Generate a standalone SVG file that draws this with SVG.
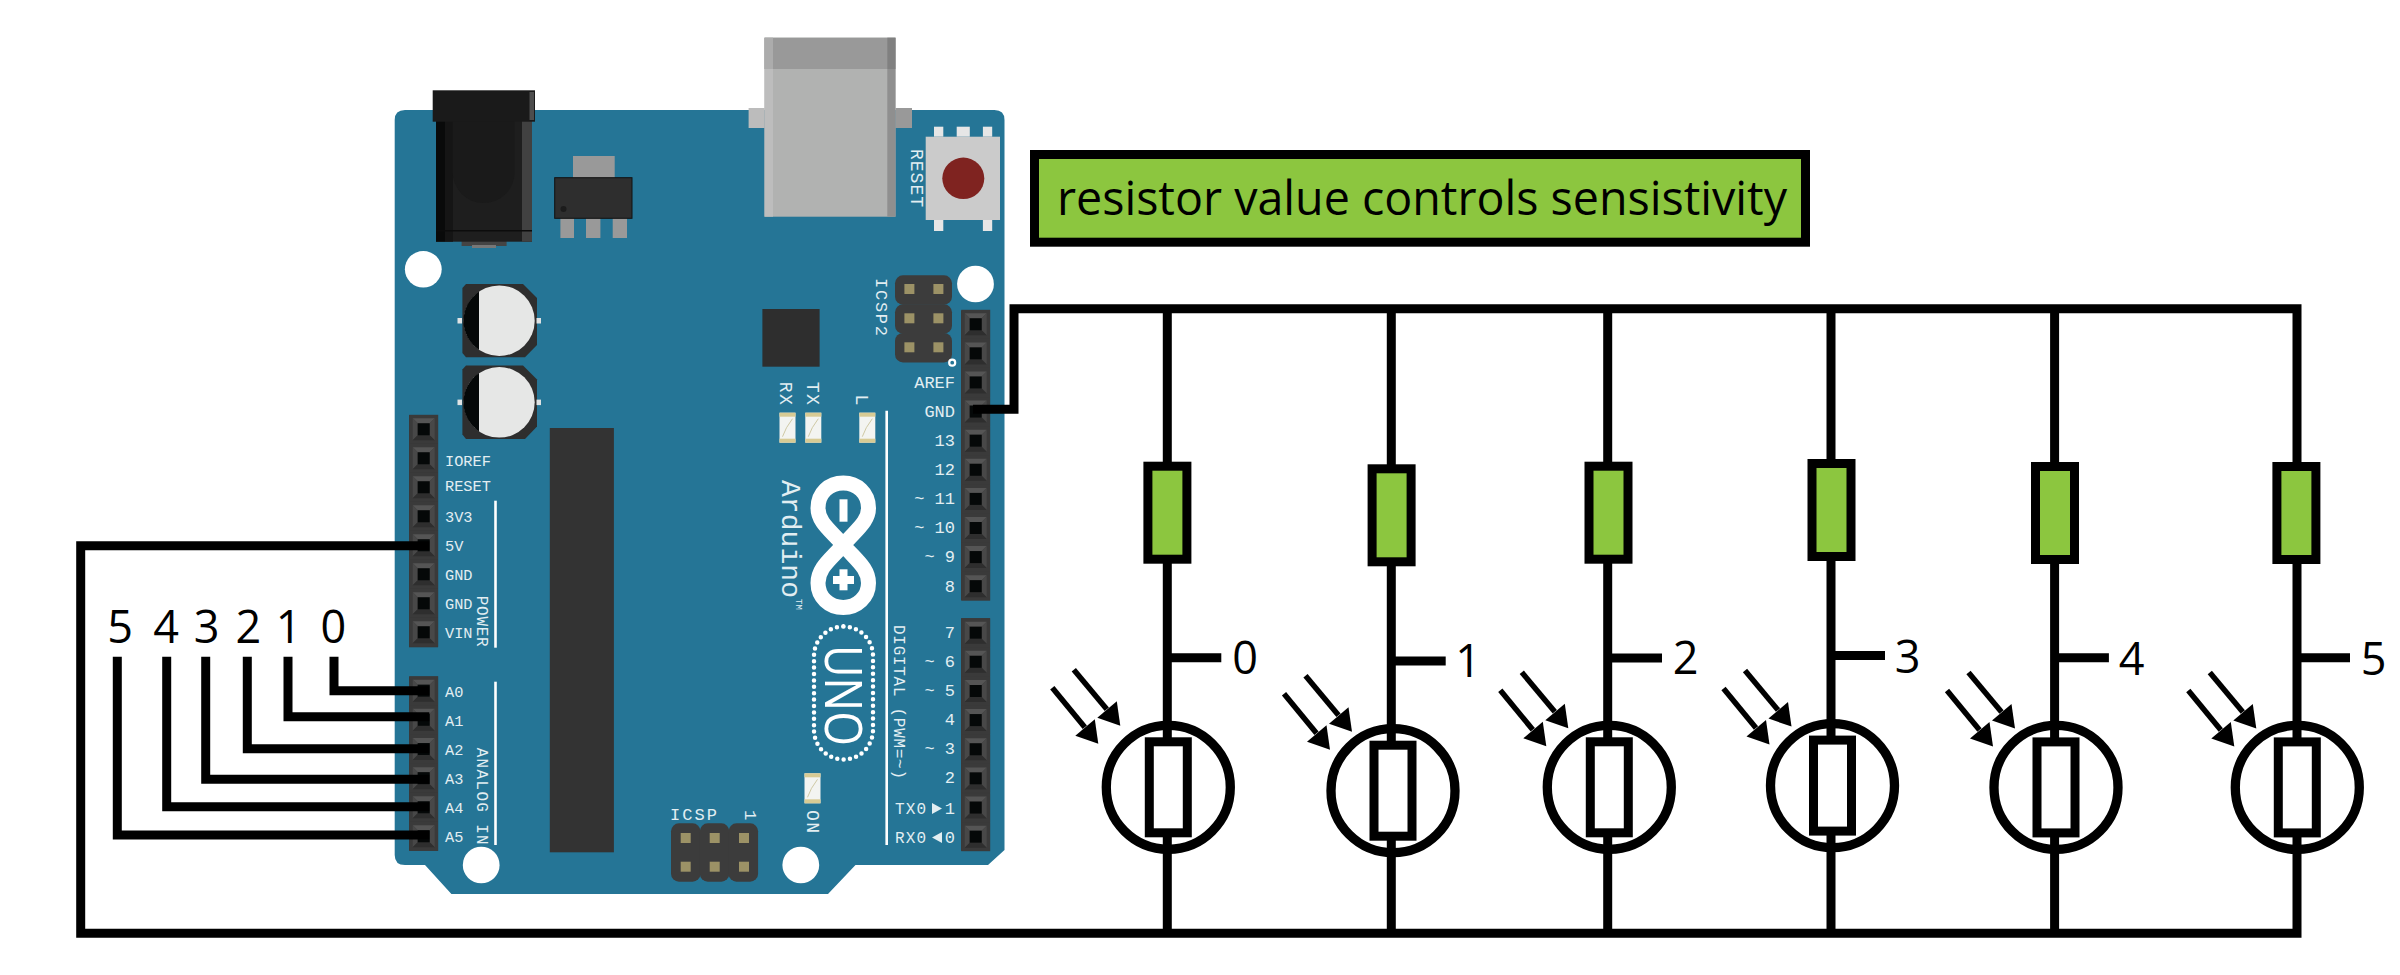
<svg xmlns="http://www.w3.org/2000/svg" xmlns:xlink="http://www.w3.org/1999/xlink" width="2400" height="975" viewBox="0 0 2400 975">
<style>
.lbl{font-family:"Liberation Mono","DejaVu Sans Mono",monospace;fill:#e2eef2;font-size:16px}
.r{font-size:17px;text-anchor:end}
.wire{fill:none;stroke:#000;stroke-width:9;stroke-linejoin:miter}
.w2{fill:none;stroke:#000;stroke-width:9}
.num{font-family:"Open Sans","Noto Sans",sans-serif;font-size:45px;fill:#000;text-anchor:middle}
.res{fill:#8cc63f;stroke:#000;stroke-width:9}
.ldrc{fill:none;stroke:#000;stroke-width:9.3}
.ldrr{fill:#fff;stroke:#000;stroke-width:9}
.ray{stroke:#000;stroke-width:5.5;fill:none}
.sil{stroke:#fff;stroke-width:2.6;fill:none}
.hdr{fill:#3a3a3a}
.hole{fill:#fff}
.pad{fill:#9c9266}
.blk{fill:#3c3c3c}
.grey{fill:#999}
</style>
<defs>
<g id="pin">
<rect x="-14.5" y="-14.5" width="29" height="29" fill="#3a3a3a"/>
<polygon points="-11,-11 11,-11 6,-6 -6,-6" fill="#555"/>
<polygon points="-11,-11 -6,-6 -6,6 -11,11" fill="#484848"/>
<polygon points="11,-11 6,-6 6,6 11,11" fill="#484848"/>
<polygon points="-11,11 -6,6 6,6 11,11" fill="#2e2e2e"/>
<rect x="-6" y="-6" width="12" height="12" fill="#050808"/>
</g>
<g id="led">
<rect x="0" y="0" width="16" height="30" fill="#f3f4f1"/>
<rect x="0" y="0" width="16" height="4" fill="#d8cb94"/>
<rect x="0" y="26" width="16" height="4" fill="#d8cb94"/>
<path d="M3 24 L7 15 L13 6" fill="none" stroke="#cfc9a4" stroke-width="1"/>
</g>
<rect id="spad" x="-5" y="-5" width="10" height="10" class="pad"/>
<g id="cap">
<polygon points="466,284 523,284 537,298 537,345 525,357.300 466,357.300 462.400,353 462.400,288" fill="#2e2e2e"/>
<rect x="457.500" y="318" width="4.500" height="5.500" fill="#dfe3e4"/>
<rect x="536.500" y="318" width="4.500" height="5.500" fill="#dfe3e4"/>
<ellipse cx="499.200" cy="320.700" rx="35.500" ry="35.300" fill="#e6e7e6"/>
<path d="M479 291.500 A35.500 35.300 0 0 0 479 349.900 Z" fill="#050808"/>
</g>
<g id="rays">
<line class="ray" x1="-87.500" y1="-115" x2="-54.500" y2="-75.500"/>
<polygon points="-41,-59 -64,-67 -44.500,-83.500"/>
<line class="ray" x1="-109" y1="-97" x2="-76.500" y2="-57.500"/>
<polygon points="-63,-41 -86,-49 -66.500,-65.500"/>
</g>
<g id="ldrbody">
<circle class="ldrc" r="62"/>
<rect class="ldrr" x="-19" y="-45.500" width="38" height="91"/>
</g>
</defs>

<g id="board">
<path d="M405 110 H994.500 Q1004.500 110 1004.500 120 V850 L988 865 H855.500 L828 894 H451.400 L425 865 H405 Q394.700 865 394.700 855 V120 Q394.700 110 405 110 Z" fill="#257596"/>
<ellipse class="hole" cx="423.300" cy="269.300" rx="18.400" ry="18.300"/>
<ellipse class="hole" cx="975.500" cy="284" rx="18.400" ry="18.300"/>
<ellipse class="hole" cx="481.200" cy="865" rx="18.400" ry="18.300"/>
<ellipse class="hole" cx="800.800" cy="865" rx="18.400" ry="18.300"/>
</g>

<g id="power-jack">
<rect x="461.600" y="240" width="45" height="6" fill="#444"/>
<rect x="472" y="245" width="24" height="3" fill="#777"/>
<rect x="436" y="121" width="96" height="120.700" fill="#1e1e1e"/>
<rect x="436" y="121" width="9" height="120.700" fill="#090a0a"/>
<rect x="445" y="121" width="8" height="120.700" fill="#151515"/>
<rect x="522" y="121" width="10" height="120.700" fill="#414141"/>
<path d="M452.600 121 H514.700 V172 A31 31 0 0 1 452.600 172 Z" fill="#1a1a1a"/>
<rect x="436" y="230" width="96" height="1.500" fill="#0c0c0c"/>
<rect x="432.700" y="90.300" width="102.300" height="31.400" fill="#1a1a1a"/>
<rect x="529.500" y="92" width="4.500" height="28" fill="#4d4d4d"/>
</g>

<g id="regulator">
<rect class="grey" x="573" y="156" width="41.700" height="22"/>
<rect class="grey" x="560.400" y="218" width="13.600" height="20"/>
<rect class="grey" x="586" y="218" width="14.400" height="20"/>
<rect class="grey" x="612.700" y="218" width="14.300" height="20"/>
<rect x="554.700" y="177.700" width="77.300" height="40.600" fill="#2e2e2e" stroke="#111" stroke-width="1"/>
<circle cx="563.500" cy="209" r="3" fill="#1c1c1c"/>
</g>

<g id="usb">
<rect x="748.600" y="108" width="16" height="20" fill="#bcbcbc"/>
<rect x="895.500" y="108" width="16.500" height="20" fill="#999"/>
<rect x="764.500" y="37.700" width="131" height="179" fill="#b1b2b1"/>
<rect x="764.500" y="37.700" width="131" height="31.300" fill="#999"/>
<rect x="764.500" y="69" width="8.500" height="147.700" fill="#bdbdbd"/>
<rect x="764.500" y="37.700" width="8.500" height="31.300" fill="#acacac"/>
<rect x="887.300" y="37.700" width="8.200" height="31.300" fill="#808080"/>
<rect x="887.300" y="69" width="8.200" height="147.700" fill="#8f8f8f"/>
</g>

<g id="reset-button">
<rect x="934" y="126.700" width="9.300" height="10" fill="#e6e6e6"/>
<rect x="956.700" y="126.700" width="13.100" height="10" fill="#e6e6e6"/>
<rect x="982.900" y="126.700" width="9.300" height="10" fill="#e6e6e6"/>
<rect x="934" y="220" width="9.300" height="11" fill="#e6e6e6"/>
<rect x="982.900" y="220" width="9.300" height="11" fill="#e6e6e6"/>
<rect x="925.700" y="136.700" width="74.300" height="83.300" fill="#cbcbcb"/>
<ellipse cx="963.300" cy="178.300" rx="21" ry="20.700" fill="#7f2320"/>
<text class="lbl" transform="translate(911,149) rotate(90)" textLength="58" lengthAdjust="spacing" style="font-size:18px">RESET</text>
</g>

<g id="capacitors">
<use xlink:href="#cap" href="#cap"/>
<use xlink:href="#cap" href="#cap" y="81.600"/>
</g>

<g id="chips">
<rect x="762.400" y="309" width="57.200" height="57.700" fill="#2e2e2e"/>
<rect x="549.800" y="428" width="64.100" height="424.300" fill="#333"/>
</g>

<g id="icsp2">
<rect class="blk" x="895" y="275.300" width="57" height="29.400" rx="8"/>
<rect class="blk" x="895" y="304.300" width="57" height="29.400" rx="8"/>
<rect class="blk" x="895" y="333" width="57" height="29.400" rx="8"/>
<use href="#spad" x="909.400" y="289"/><use href="#spad" x="938.400" y="289"/>
<use href="#spad" x="909.400" y="318.300"/><use href="#spad" x="938.400" y="318.300"/>
<use href="#spad" x="909.400" y="347.300"/><use href="#spad" x="938.400" y="347.300"/>
<circle cx="952.200" cy="362.700" r="3" fill="#257596" stroke="#fff" stroke-width="2.200"/>
<text class="lbl" transform="translate(875.500,278) rotate(90)" textLength="58" lengthAdjust="spacing" style="font-size:17px">ICSP2</text>
</g>

<g id="icsp">
<rect class="blk" x="671" y="823.300" width="29.500" height="58.400" rx="8"/>
<rect class="blk" x="699.800" y="823.300" width="29.500" height="58.400" rx="8"/>
<rect class="blk" x="728.600" y="823.300" width="29.500" height="58.400" rx="8"/>
<use href="#spad" x="685.700" y="838"/><use href="#spad" x="714.700" y="838"/><use href="#spad" x="744" y="838"/>
<use href="#spad" x="685.700" y="866.700"/><use href="#spad" x="714.700" y="866.700"/><use href="#spad" x="744" y="866.700"/>
<text class="lbl" x="670" y="820" textLength="47" lengthAdjust="spacing" style="font-size:17px">ICSP</text>
<text class="lbl" transform="translate(745,810) rotate(90)" style="font-size:17px">1</text>
</g>

<g id="header-power">
<rect class="hdr" x="409" y="415" width="29" height="232.300"/>
<use href="#pin" x="423.700" y="429.300"/><use href="#pin" x="423.700" y="458.300"/><use href="#pin" x="423.700" y="487.300"/><use href="#pin" x="423.700" y="516.300"/><use href="#pin" x="423.700" y="545.300"/><use href="#pin" x="423.700" y="574.300"/><use href="#pin" x="423.700" y="603.300"/><use href="#pin" x="423.700" y="632.300"/>
<g class="lbl" style="font-size:15.300px">
<text x="445" y="466">IOREF</text>
<text x="445" y="491">RESET</text>
<text x="445" y="522">3V3</text>
<text x="445" y="551">5V</text>
<text x="445" y="580">GND</text>
<text x="445" y="608.500">GND</text>
<text x="445" y="637.500">VIN</text>
</g>
<text class="lbl" transform="translate(476.500,595.700) rotate(90)" textLength="51" lengthAdjust="spacing">POWER</text>
<line class="sil" x1="495.500" y1="500.700" x2="495.500" y2="647.700"/>
</g>

<g id="header-analog">
<rect class="hdr" x="409" y="676.700" width="29" height="174"/>
<use href="#pin" x="423.700" y="690.700"/><use href="#pin" x="423.700" y="719.800"/><use href="#pin" x="423.700" y="749"/><use href="#pin" x="423.700" y="778.200"/><use href="#pin" x="423.700" y="807.300"/><use href="#pin" x="423.700" y="836.300"/>
<g class="lbl" style="font-size:15.300px">
<text x="445" y="696.500">A0</text>
<text x="445" y="725.500">A1</text>
<text x="445" y="754.500">A2</text>
<text x="445" y="783.500">A3</text>
<text x="445" y="812.500">A4</text>
<text x="445" y="841.500">A5</text>
</g>
<text class="lbl" transform="translate(476.500,747.700) rotate(90)" textLength="97" lengthAdjust="spacing">ANALOG IN</text>
<line class="sil" x1="495.500" y1="681.700" x2="495.500" y2="845"/>
</g>

<g id="header-digital-high">
<rect class="hdr" x="961" y="310.700" width="29" height="289.300"/>
<use href="#pin" x="975.700" y="324.300"/><use href="#pin" x="975.700" y="353.400"/><use href="#pin" x="975.700" y="382.500"/><use href="#pin" x="975.700" y="411.600"/><use href="#pin" x="975.700" y="440.700"/><use href="#pin" x="975.700" y="469.800"/><use href="#pin" x="975.700" y="498.900"/><use href="#pin" x="975.700" y="528"/><use href="#pin" x="975.700" y="557.100"/><use href="#pin" x="975.700" y="586.200"/>
<text class="lbl r" x="955" y="388">AREF</text>
<text class="lbl r" x="955" y="417">GND</text>
<text class="lbl r" x="955" y="446">13</text>
<text class="lbl r" x="955" y="475">12</text>
<text class="lbl r" x="955" y="504">~ 11</text>
<text class="lbl r" x="955" y="533">~ 10</text>
<text class="lbl r" x="955" y="562">~ 9</text>
<text class="lbl r" x="955" y="591.500">8</text>
</g>

<g id="header-digital-low">
<rect class="hdr" x="961" y="618.300" width="29" height="232.400"/>
<use href="#pin" x="975.700" y="632.700"/><use href="#pin" x="975.700" y="661.800"/><use href="#pin" x="975.700" y="691"/><use href="#pin" x="975.700" y="720.100"/><use href="#pin" x="975.700" y="749.300"/><use href="#pin" x="975.700" y="778.400"/><use href="#pin" x="975.700" y="807.600"/><use href="#pin" x="975.700" y="836.700"/>
<text class="lbl r" x="955" y="638">7</text>
<text class="lbl r" x="955" y="667">~ 6</text>
<text class="lbl r" x="955" y="696">~ 5</text>
<text class="lbl r" x="955" y="725">4</text>
<text class="lbl r" x="955" y="754">~ 3</text>
<text class="lbl r" x="955" y="783">2</text>
<text class="lbl r" x="955" y="814">1</text>
<text class="lbl r" x="955" y="842.500">0</text>
<text class="lbl" x="895" y="814" textLength="31" lengthAdjust="spacing">TX0</text>
<text class="lbl" x="895" y="842.500" textLength="31" lengthAdjust="spacing">RX0</text>
<polygon points="932,803 932,814 942,808.500" fill="#e2eef2"/>
<polygon points="942,832 942,843 932,837.500" fill="#e2eef2"/>
<text class="lbl" transform="translate(894,625) rotate(90)" textLength="154" lengthAdjust="spacing">DIGITAL (PWM=~)</text>
<line class="sil" x1="886.700" y1="410.700" x2="886.700" y2="845"/>
</g>

<g id="leds">
<use href="#led" x="779.500" y="412.700"/>
<use href="#led" x="805.300" y="412.700"/>
<use href="#led" x="859.300" y="412.700"/>
<use href="#led" x="804.500" y="773.300"/>
<text class="lbl" transform="translate(779.500,381.700) rotate(90)" textLength="23" lengthAdjust="spacing" style="font-size:18px">RX</text>
<text class="lbl" transform="translate(807,381.700) rotate(90)" textLength="23" lengthAdjust="spacing" style="font-size:18px">TX</text>
<text class="lbl" transform="translate(856,394.500) rotate(90)" style="font-size:18px">L</text>
<text class="lbl" transform="translate(807,810) rotate(90)" textLength="23" lengthAdjust="spacing" style="font-size:18px">ON</text>
</g>

<g id="logo">
<path d="M843.300 545 C830 530 818 522 818 508 C818 493 829 483 843.300 483 C857 483 868.500 493 868.500 508 C868.500 522 856 530 843.300 545 C830 560 818 568 818 583 C818 597 829 607.500 843.300 607.500 C857 607.500 868.500 597 868.500 583 C868.500 568 856 560 843.300 545 Z" fill="none" stroke="#fff" stroke-width="15"/>
<rect x="839.500" y="499.300" width="8" height="22.400" fill="#fff"/>
<rect x="833" y="576" width="21" height="8" fill="#fff"/>
<rect x="839.500" y="569.300" width="8" height="21" fill="#fff"/>
<text class="lbl" transform="translate(782,480) rotate(90)" textLength="118" lengthAdjust="spacing" style="font-size:28px">Arduino</text>
<text class="lbl" transform="translate(796,599) rotate(90)" style="font-size:9px">TM</text>
<rect x="814" y="626.500" width="59" height="133" rx="29.500" fill="none" stroke="#fff" stroke-width="4.500" stroke-linecap="round" stroke-dasharray="0 6.400"/>
<text transform="translate(825,645) rotate(90)" textLength="101" lengthAdjust="spacingAndGlyphs" style="font-family:'Open Sans','Liberation Sans',sans-serif;font-weight:400;font-size:52px;fill:#fff">UNO</text>
</g>

<g id="connectors">
<path class="wire" d="M973 409.300 H1014 V308.700 H2297 V933.300 H80.700 V545.700 H429.300"/>
<path class="wire" d="M334 656.700 V690.700 H429.300"/>
<path class="wire" d="M288 656.700 V716.700 H429.300"/>
<path class="wire" d="M247.300 656.700 V748.700 H429.300"/>
<path class="wire" d="M205.700 656.700 V779.300 H429.300"/>
<path class="wire" d="M166.700 656.700 V806.700 H429.300"/>
<path class="wire" d="M117.300 656.700 V835 H429.300"/>
<path class="w2" d="M1167.300 308.700 V933.300 M1167.300 657.700 H1221.300"/>
<path class="w2" d="M1391.300 308.700 V933.300 M1391.300 661 H1445.700"/>
<path class="w2" d="M1607.700 308.700 V933.300 M1607.700 658 H1662"/>
<path class="w2" d="M1831 308.700 V933.300 M1831 655.500 H1885"/>
<path class="w2" d="M2054.600 308.700 V933.300 M2054.600 657.700 H2108.900"/>
<path class="w2" d="M2297 657.700 H2350"/>
</g>

<g id="pin-labels">
<text class="num" x="120" y="642.700">5</text>
<text class="num" x="166" y="642.700">4</text>
<text class="num" x="206.700" y="642.700">3</text>
<text class="num" x="248.300" y="642.700">2</text>
<text class="num" x="288.700" y="642.700">1</text>
<text class="num" x="333.300" y="642.700">0</text>
</g>

<g id="note">
<rect x="1034.500" y="154.500" width="771" height="87.700" fill="#8cc63f" stroke="#000" stroke-width="9"/>
<text x="1057" y="215" textLength="730" lengthAdjust="spacingAndGlyphs" style="font-family:'Open Sans','Noto Sans',sans-serif;font-size:48px;fill:#000">resistor value controls sensistivity</text>
</g>

<g id="branch0"><rect class="res" x="1147.900" y="466.200" width="39" height="93"/><use href="#ldrbody" x="1168.300" y="787.300"/><use href="#rays" x="1161.300" y="784.800"/><text class="num" x="1245" y="674">0</text></g>
<g id="branch1"><rect class="res" x="1372.100" y="468.800" width="39" height="93"/><use href="#ldrbody" x="1393" y="790.700"/><use href="#rays" x="1393" y="790.700"/><text class="num" x="1468" y="677">1</text></g>
<g id="branch2"><rect class="res" x="1589" y="466.200" width="39" height="93"/><use href="#ldrbody" x="1609.300" y="787.300"/><use href="#rays" x="1609.300" y="787.300"/><text class="num" x="1685.700" y="674">2</text></g>
<g id="branch3"><rect class="res" x="1812" y="463.500" width="39" height="93"/><use href="#ldrbody" x="1832.500" y="785.600"/><use href="#rays" x="1832.500" y="785.600"/><text class="num" x="1907.700" y="672.500">3</text></g>
<g id="branch4"><rect class="res" x="2035.500" y="466.500" width="39" height="93"/><use href="#ldrbody" x="2056" y="787.400"/><use href="#rays" x="2056" y="787.400"/><text class="num" x="2131.700" y="674.600">4</text></g>
<g id="branch5"><rect class="res" x="2276.900" y="466.500" width="39" height="93"/><use href="#ldrbody" x="2297.300" y="787.400"/><use href="#rays" x="2297.300" y="787.400"/><text class="num" x="2373.600" y="674.600">5</text></g>

</svg>
